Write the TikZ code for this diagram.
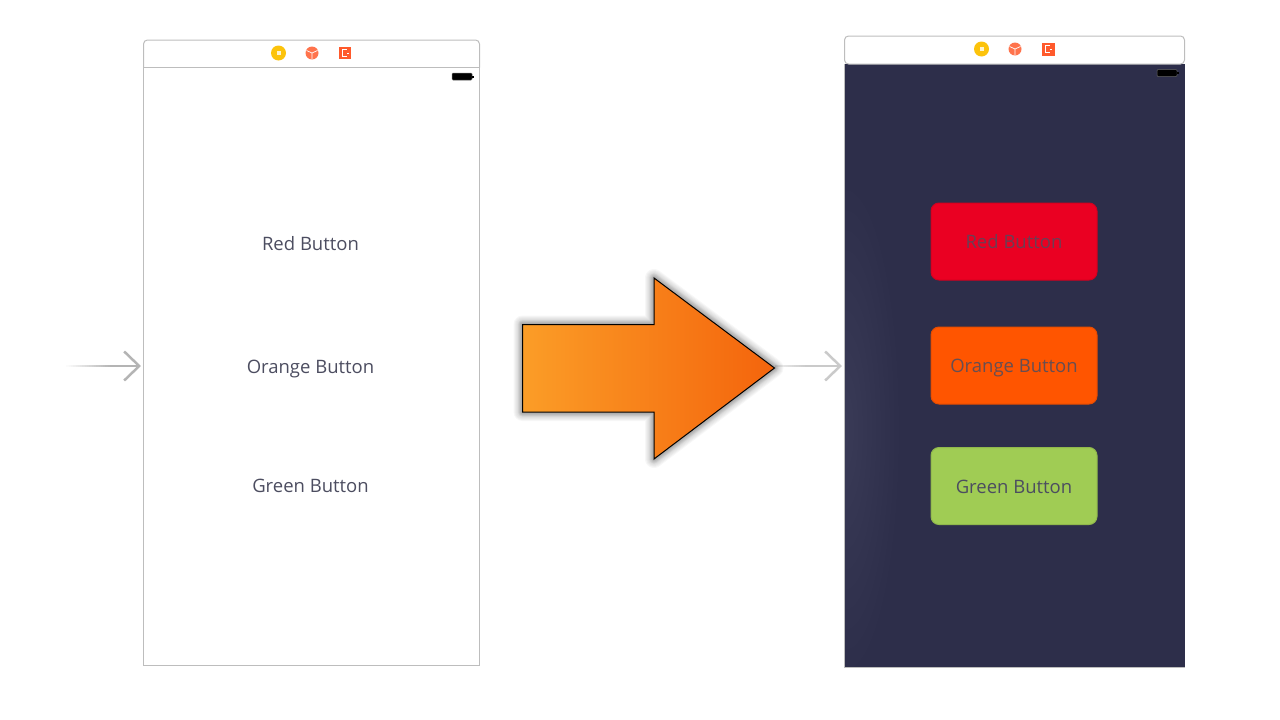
\documentclass[tikz,border=0pt]{standalone}
\usepackage{fontspec}
\setmainfont{Open Sans}
\usetikzlibrary{arrows.meta}

\definecolor{framegray}{HTML}{BDBDBD}
\definecolor{entrygray}{HTML}{B4B4B4}
\definecolor{entrylight}{HTML}{CACACA}
\definecolor{darkscreen}{HTML}{2D2E4A}
\definecolor{labelgray}{HTML}{4C4D60}
\definecolor{iconyellow}{HTML}{FCC30B}
\definecolor{iconorange}{HTML}{FF5A2C}
\definecolor{arrowa}{HTML}{FB9D27}
\definecolor{arrowb}{HTML}{F67814}
\definecolor{arrowc}{HTML}{F4640C}
\definecolor{btnred}{HTML}{EA0022}
\definecolor{btnorange}{HTML}{FF5500}
\definecolor{btngreen}{HTML}{A0CC54}

\tikzset{
  btn/.style={draw=#1!90!black,line width=1pt,fill=#1,rounded corners=8pt,minimum width=166pt,minimum height=77pt,inner sep=0pt},
  lbl/.style={font=\fontsize{18.5}{19}\selectfont,text=labelgray,inner sep=0pt,text height=14pt,text depth=0pt},
  yicon/.style={circle,fill=iconyellow,minimum size=15pt,inner sep=0pt},
  cicon/.style={circle,fill=iconorange!85!white,minimum size=13pt,inner sep=0pt},
  sicon/.style={rectangle,fill=iconorange,minimum size=12pt,inner sep=0pt},
  dot/.style={fill=white!80!iconyellow,minimum size=4pt,inner sep=0pt},
  bat/.style={fill=black,draw=black!60,line width=.5pt,rounded corners=1pt,minimum width=20pt,minimum height=7pt,inner sep=0pt},
  entry/.style={-{Straight Barb[length=15pt,width=29pt,line width=2.5pt]},line width=2.5pt,shorten >=2pt},
  frame/.style={framegray,line width=1pt}
}

\begin{document}
\begin{tikzpicture}[x=1pt,y=-1pt]
\useasboundingbox (0,0) rectangle (1280,720);

% left scene
\draw[frame,rounded corners=4pt] (143.5,67.5)--(143.5,40)--(479.5,40)--(479.5,67.5);
\draw[frame] (143.5,67.5) rectangle (479.5,665.5);
\coordinate (leftscene) at (143,366);
\coordinate (leftmid) at (110,366);
\foreach \p in {0,5,...,100}
  \draw[line width=2.5pt,entrygray!\p!white] ({64+.46*\p},366)--({66.8+.46*\p},366);
\draw[entry,entrygray] (leftmid)--(leftscene);

\node[yicon] (ya) at (278.5,53) {};
\node[dot] at (ya) {};
\node[cicon] (ca) at (312,53) {};
\draw[white,line width=.7pt] (306.5,50.5)--(312,53)--(317.5,50.5) (312,53)--(312,59);
\node[sicon] (sa) at (345,53) {};
\draw[white,line width=1pt] (347,49.5)--(342,49.5)--(342,56.5)--(347,56.5) (347,53)--(349,53);
\node[bat] (ba) at (462,76.5) {};
\fill (472,75.5) rectangle (473.5,77.5);

\node[lbl] (redl) at (310.5,243.5) {Red Button};
\node[lbl] (orangel) at (310.5,366) {Orange Button};
\node[lbl] (greenl) at (310.5,485) {Green Button};

% right scene
\fill[darkscreen] (844,64) rectangle (1185,668);
\begin{scope}
\clip (845,64) rectangle (1185,668);
\foreach \k in {1,...,12}
  \fill[white,opacity=.008] (845,430) ellipse ({4.5*\k} and {20*\k});
\end{scope}
\draw[frame] (844.5,64)--(844.5,667.5)--(1185,667.5);
\draw[frame,rounded corners=4pt,fill=white] (844.5,64)--(844.5,36)--(1184.5,36)--(1184.5,64)--cycle;
\coordinate (rightscene) at (844,366);
\coordinate (rightmid) at (805,366);
\foreach \p in {30,35,...,100}
  \draw[line width=2.5pt,entrylight!\p!white] ({762+.43*\p},366)--({764.8+.43*\p},366);
\draw[entry,entrylight] (rightmid)--(rightscene);

\node[yicon] (yb) at (981.5,49) {};
\node[dot] at (yb) {};
\node[cicon] (cb) at (1015,49) {};
\draw[white,line width=.7pt] (1009.5,46.5)--(1015,49)--(1020.5,46.5) (1015,49)--(1015,55);
\node[sicon,minimum size=13pt] (sb) at (1048,49) {};
\draw[white,line width=1pt] (1050,45.5)--(1045,45.5)--(1045,52.5)--(1050,52.5) (1050,49)--(1052,49);
\node[bat] (bb) at (1167,73) {};
\fill (1177,72) rectangle (1178.5,74);

\node[btn=btnred] (redb) at (1014,241.5) {};
\node[btn=btnorange] (orangeb) at (1014,365.5) {};
\node[btn=btngreen] (greenb) at (1014,486) {};
\node[lbl,text=labelgray!80!btnred] (redt) at (redb) {Red Button};
\node[lbl,text=labelgray!85!btnorange] (oranget) at (orangeb) {Orange Button};
\node[lbl] (greent) at (greenb) {Green Button};

% big arrow
\foreach \w in {18,16,14,12,10,9,8,7,6,5,4,3,2}
  \draw[black,opacity=.03,line width=\w pt,line join=round] (522.5,324.5)--(654,324.5)--(654,278)--(774.5,368)--(654,459)--(654,412)--(522.5,412)--cycle;
\draw[black,line width=1pt,line join=miter,left color=arrowa,middle color=arrowb,right color=arrowc] (522.5,324.5)--(654,324.5)--(654,278)--(774.5,368)--(654,459)--(654,412)--(522.5,412)--cycle;
\end{tikzpicture}
\end{document}
